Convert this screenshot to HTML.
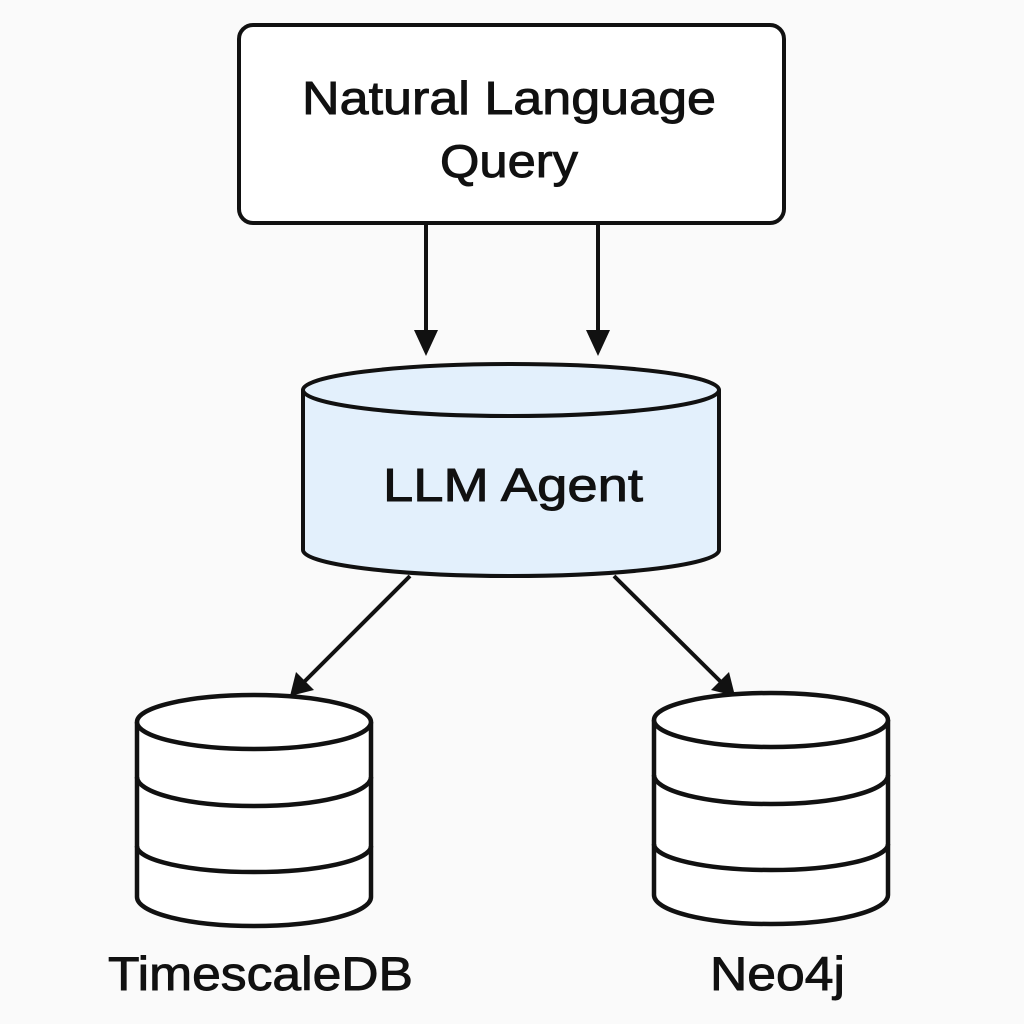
<!DOCTYPE html>
<html><head><style>
html,body{margin:0;padding:0;background:#fafafa;}
svg{display:block}
text{font-family:"Liberation Sans",sans-serif;fill:#111;stroke:#111;stroke-width:0.9}
</style></head><body>
<svg width="1024" height="1024" viewBox="0 0 1024 1024">
<rect width="1024" height="1024" fill="#fafafa"/>
<rect x="239" y="25" width="545" height="198" rx="14" fill="#fff" stroke="#111" stroke-width="4"/>
<text x="302" y="114" font-size="46" textLength="414" lengthAdjust="spacingAndGlyphs">Natural Language</text>
<text x="440" y="177" font-size="46" textLength="138" lengthAdjust="spacingAndGlyphs">Query</text>
<g stroke="#111" stroke-width="4" fill="none">
<line x1="426" y1="224" x2="426" y2="340"/>
<line x1="598" y1="224" x2="598" y2="340"/>
</g>
<path d="M414,330 L438,330 L426,356 z" fill="#111"/>
<path d="M586,330 L610,330 L598,356 z" fill="#111"/>
<path d="M303,390 L303,550 A208,26 0 0 0 719,550 L719,390" fill="#e3f0fc" stroke="#111" stroke-width="4"/>
<ellipse cx="511" cy="390" rx="208" ry="26" fill="#e3f0fc" stroke="#111" stroke-width="4"/>
<text x="383" y="501" font-size="46" textLength="260" lengthAdjust="spacingAndGlyphs">LLM Agent</text>
<g stroke="#111" stroke-width="4">
<line x1="410" y1="576" x2="303" y2="683"/>
<line x1="614" y1="576" x2="722" y2="683"/>
</g>
<path d="M290,696 L296,672 L314,690 z" fill="#111"/>
<path d="M735,696 L729,672 L711,690 z" fill="#111"/>
<g stroke="#111" stroke-width="4.5" fill="#fff">
<path d="M137,722 L137,897 A117,29 0 0 0 371,897 L371,722"/>
<ellipse cx="254" cy="722" rx="117" ry="27"/>
<path d="M137,777 A117,29 0 0 0 371,777" fill="none"/>
<path d="M137,846 A117,26 0 0 0 371,846" fill="none"/>
</g>
<g stroke="#111" stroke-width="4.5" fill="#fff">
<path d="M654,720 L654,895 A117,29 0 0 0 888,895 L888,720"/>
<ellipse cx="771" cy="720" rx="117" ry="27"/>
<path d="M654,775 A117,29 0 0 0 888,775" fill="none"/>
<path d="M654,844 A117,26 0 0 0 888,844" fill="none"/>
</g>
<text x="108" y="990" font-size="47" textLength="305" lengthAdjust="spacingAndGlyphs">TimescaleDB</text>
<text x="710" y="990" font-size="47" textLength="135" lengthAdjust="spacingAndGlyphs">Neo4j</text>
</svg>
</body></html>
